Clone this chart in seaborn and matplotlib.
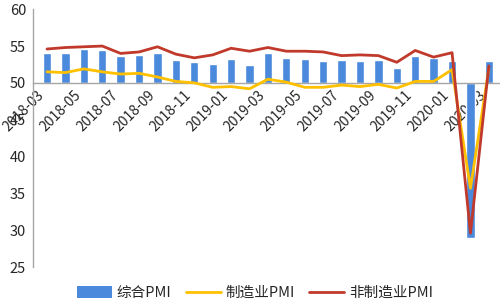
import numpy as np
import pandas as pd
import matplotlib
matplotlib.use("Agg")
import matplotlib.pyplot as plt
import seaborn as sns
from matplotlib.patches import Patch
from matplotlib.lines import Line2D

## Data
months = ["2018-03", "2018-04", "2018-05", "2018-06", "2018-07", "2018-08", "2018-09",
          "2018-10", "2018-11", "2018-12", "2019-01", "2019-02", "2019-03", "2019-04",
          "2019-05", "2019-06", "2019-07", "2019-08", "2019-09", "2019-10", "2019-11",
          "2019-12", "2020-01", "2020-02", "2020-03"]
composite_pmi = [54.0, 54.1, 54.6, 54.4, 53.6, 53.8, 54.1, 53.1, 52.8, 52.6, 53.2, 52.4, 54.0,
                 53.4, 53.3, 53.0, 53.1, 53.0, 53.1, 52.0, 53.7, 53.4, 53.0, 28.9, 53.0]
manufacturing_pmi = [51.5, 51.4, 51.9, 51.5, 51.2, 51.3, 50.8, 50.2, 50.0, 49.4, 49.5, 49.2, 50.5,
                     50.1, 49.4, 49.4, 49.7, 49.5, 49.8, 49.3, 50.2, 50.2, 51.8, 35.7, 52.0]
non_manufacturing_pmi = [54.6, 54.8, 54.9, 55.0, 54.0, 54.2, 54.9, 53.9, 53.4, 53.8, 54.7, 54.3, 54.8,
                         54.3, 54.3, 54.2, 53.7, 53.8, 53.7, 52.8, 54.4, 53.5, 54.1, 29.6, 52.3]
legend_labels = ["综合PMI", "制造业PMI", "非制造业PMI"]

df = pd.DataFrame({"month": months, "composite": composite_pmi,
                   "manufacturing": manufacturing_pmi, "non_manufacturing": non_manufacturing_pmi})
df["idx"] = np.arange(len(df))
df["bar_height"] = df["composite"] - 50  # bars hang from the 50 line

## Style
sns.set_style("white")
plt.rcParams["font.family"] = ["Noto Sans CJK SC", "DejaVu Sans"]

bar_color = "#4A89DC"
yellow = "#FFC000"
red = "#C0392B"

fig = plt.figure(figsize=(5, 3.07), dpi=100)
ax = fig.add_axes([0.066, 0.13, 0.932, 0.84])

sns.barplot(data=df, x="month", y="bar_height", bottom=50, width=0.45,
            color=bar_color, saturation=1, ax=ax, zorder=2)
sns.lineplot(data=df, x="idx", y="manufacturing", color=yellow, linewidth=2, ax=ax, zorder=3)
sns.lineplot(data=df, x="idx", y="non_manufacturing", color=red, linewidth=2, ax=ax, zorder=4)

ax.set_ylim(25, 60)
ax.set_xlim(-0.76, 24.55)
ax.set_yticks(range(25, 61, 5))
ax.set_xlabel("")
ax.set_ylabel("")

# x axis crosses at 50
ax.spines["bottom"].set_position(("data", 50))
for s in ["top", "right"]:
    ax.spines[s].set_visible(False)
for s in ["left", "bottom"]:
    ax.spines[s].set_color("#A6A6A6")
    ax.spines[s].set_linewidth(1)

ax.set_xticks(df["idx"][::2])
ax.set_xticklabels(df["month"][::2], rotation=45, ha="right", va="top",
                   fontsize=10, color="#262626")
ax.set_xticks(np.arange(1.5, 24, 2), minor=True)
ax.tick_params(axis="x", which="major", length=0, pad=4)
ax.tick_params(axis="x", which="minor", length=3, color="#A6A6A6", direction="out")
ax.tick_params(axis="y", length=3, color="#A6A6A6", direction="out",
               labelsize=10.5, labelcolor="#262626", pad=2)

handles = [Patch(facecolor=bar_color, edgecolor="none"),
           Line2D([0], [0], color=yellow, linewidth=2),
           Line2D([0], [0], color=red, linewidth=2)]
fig.legend(handles, legend_labels, loc="lower center", bbox_to_anchor=(0.51, -0.02),
           ncol=3, frameon=False, fontsize=10.5, handlelength=2.4, handleheight=0.8,
           columnspacing=1.0, handletextpad=0.3, labelcolor="#262626")

fig.savefig("out.png", dpi=100)
